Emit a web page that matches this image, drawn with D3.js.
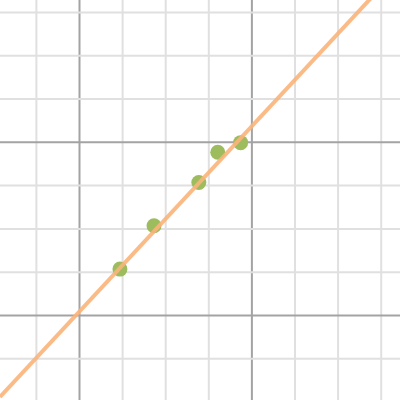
<!DOCTYPE html>
<html lang="en">
<head>
    <meta charset="UTF-8">
    <title>Scatter with fitted line</title>
    <script src="https://d3js.org/d3.v7.min.js"></script>
    <style>
        html, body { margin: 0; padding: 0; background: #fff; }
        svg { display: block; }
    </style>
</head>
<body>
    <svg width="400" height="400"></svg>

    <script>
        // data
        const xValues = [0.95, 1.74, 2.78, 3.22, 3.75];
        const yValues = [1.06, 2.06, 3.06, 3.76, 3.98];

        // fitted line y = slope * x + intercept
        const slope = 1.07;
        const intercept = 0.07;

        // grid: minor every 1 unit, major every 4
        const gridTicks = d3.range(-2, 9, 1);
        const majorTicks = [0, 4];

        const width = 400, height = 400;

        const svg = d3.select("svg");

        const xScale = d3.scaleLinear()
                         .domain([-1.833, 7.448])
                         .range([0, width]);

        const yScale = d3.scaleLinear()
                         .domain([-1.963, 7.275])
                         .range([height, 0]);

        // grid lines (darker every 4)
        svg.append("g")
           .attr("transform", `translate(0,${height})`)
           .call(d3.axisBottom(xScale).tickValues(gridTicks).tickSize(-height).tickFormat(""))
           .call(g => g.select(".domain").remove())
           .selectAll("line")
           .attr("stroke", d => majorTicks.includes(d) ? "#a3a3a3" : "#e0e0e0")
           .attr("stroke-width", 2);

        svg.append("g")
           .call(d3.axisLeft(yScale).tickValues(gridTicks).tickSize(-width).tickFormat(""))
           .call(g => g.select(".domain").remove())
           .selectAll("line")
           .attr("stroke", d => majorTicks.includes(d) ? "#a3a3a3" : "#e0e0e0")
           .attr("stroke-width", 2);

        const dataset = xValues.map((x, i) => ({ x: x, y: yValues[i] }));

        svg.selectAll(".dot")
           .data(dataset)
           .enter()
           .append("circle")
           .attr("class", "dot")
           .attr("cx", d => xScale(d.x))
           .attr("cy", d => yScale(d.y))
           .attr("r", 7.5)
           .attr("fill", "#9cbc5e");

        const xs = xScale.domain();
        svg.append("line")
           .attr("x1", xScale(xs[0]))
           .attr("y1", yScale(slope * xs[0] + intercept))
           .attr("x2", xScale(xs[1]))
           .attr("y2", yScale(slope * xs[1] + intercept))
           .attr("stroke", "#f9b47a")
           .attr("stroke-width", 4)
           .attr("stroke-opacity", 0.9);
    </script>
</body>
</html>
